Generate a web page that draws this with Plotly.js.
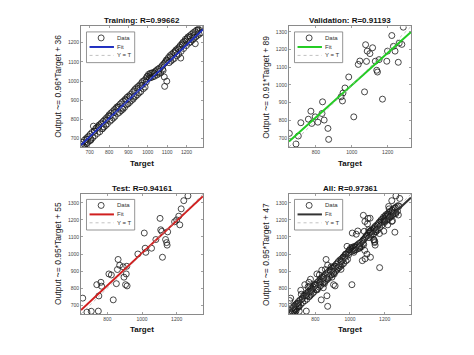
<!DOCTYPE html>
<html><head><meta charset="utf-8">
<script src="https://cdn.plot.ly/plotly-3.0.1.min.js"></script>
<style>html,body{margin:0;padding:0;background:#fff;} #chart{width:474px;height:355px;}</style>
</head><body><div id="chart"></div>
<script>
// ---------- Data ----------
const trainT = [658,662,665,669,672,676,680,684,688,691,
  695,699,703,707,712,716,719,723,727,731,
  736,740,744,748,752,757,761,765,770,774,
  778,783,787,791,796,800,805,809,813,818,
  822,827,831,835,840,844,849,853,858,862,
  866,871,875,880,884,889,893,897,902,906,
  911,915,920,924,928,933,937,942,946,951,
  955,959,964,968,973,977,982,986,990,995,
  999,1004,1008,1013,1017,1021,1026,1030,1035,1039,
  1044,1048,1052,1057,1061,1066,1070,1075,1079,1083,
  1085,1087,1088,1092,1098,1101,1106,1110,1114,1119,
  1123,1128,1132,1137,1141,1145,1150,1154,1159,1163,
  1168,1170,1172,1176,1181,1185,1190,1194,1199,1203,
  1207,1212,1216,1221,1225,1230,1234,1238,1243,1245,
  1247,1252,1256,1261,1265,1269,1274,1278,1282,
  667,686,705,725,746,766,785,806,826,847,
  868,887,908,929,949,970,992,1011,1033,1055,
  1076,1096,1117,1139,1158,1179,1200,1219,1240,1262];
const trainY = [668,656,680,657,690,666,698,672,705,680,
  712,688,722,695,731,704,764,738,715,752,
  756,726,760,770,735,775,781,750,790,760,
  798,768,808,776,815,823,790,832,798,840,
  806,850,815,856,864,830,870,836,880,845,
  888,852,896,862,905,876,915,880,922,888,
  930,898,940,905,948,956,920,965,928,972,
  938,980,945,990,998,960,1003,968,1012,1022,
  1025,1035,1015,1040,1018,1042,1022,1045,1025,1050,
  1055,1032,1062,1040,1068,1042,1074,1082,1055,1090,
  1021,972,1095,1102,999,1110,1122,1096,1132,1104,
  1140,1112,1148,1118,1155,1162,1132,1170,1140,1178,
  1186,1120,1155,1194,1202,1170,1208,1218,1185,1222,
  1230,1198,1236,1205,1244,1214,1252,1222,1258,1195,
  1230,1266,1238,1272,1244,1278,1252,1284,1280,
  660,695,690,738,762,752,795,818,835,862,
  858,900,918,915,960,978,995,1028,1040,1048,
  1062,1110,1125,1148,1165,1188,1210,1230,1242,1268];

const valT = [652,689,702,716,758,772,777,796,811,834,
  837,846,867,871,940,951,948,962,983,1011,
  1036,1045,1071,1077,1082,1086,1101,1116,1139,1143,
  1131,1152,1171,1195,1199,1223,1232,1241,1259,1264,
  1279,1287];
const valY = [727,667,712,787,807,852,783,820,790,839,
  905,802,755,693,933,955,910,983,1045,820,
  1116,1135,961,1227,1133,1191,1177,1210,1083,1073,
  1134,1143,920,1134,1191,1279,1218,1191,1128,1236,
  1229,1326];

const testT = [658,682,707,739,751,748,763,767,809,823,
  834,852,858,862,871,891,896,905,909,912,
  914,976,1013,1018,1022,1055,1080,1104,1108,1114,
  1118,1136,1142,1145,1148,1188,1200,1212,1218,1226,
  1241,1265];
const testY = [741,659,664,820,754,665,834,811,883,877,
  731,826,909,968,934,925,864,820,883,928,
  813,1000,1123,1034,1010,1034,1085,1209,1142,1133,
  981,1085,1067,1052,1130,1189,1200,1222,1171,1265,
  1313,1341];

// "All" is the union of the three sets
const allT = trainT.concat(valT, testT);
const allY = trainY.concat(valY, testY);

// Fit line end points and Y = T line end points (at the axis limits)
const trainFitX = [655, 1285], trainFitY = [665, 1270];
const valFitX   = [650, 1330], valFitY   = [681, 1299];
const testFitX  = [648, 1352], testFitY  = [671, 1339];
const allFitX   = [648, 1352], allFitY   = [663, 1331];
const trainLim = [655, 1285];
const valLim   = [650, 1330];
const testLim  = [648, 1352];
const allLim   = [648, 1352];

const panelTitles = ['Training: R=0.99662','Validation: R=0.91193','Test: R=0.94161','All: R=0.97361'];
const yLabels = ['Output ~= 0.96*Target + 36','Output ~= 0.91*Target + 89','Output ~= 0.95*Target + 55','Output ~= 0.95*Target + 47'];
const xTickVals = [[700,800,900,1000,1100,1200],[800,1000,1200],[800,1000,1200],[800,1000,1200]];
const yTickVals = [[700,800,900,1000,1100,1200],[700,800,900,1000,1100,1200,1300],[700,800,900,1000,1100,1200,1300],[700,800,900,1000,1100,1200,1300]];
const legendLabels = ['Data','Fit','Y = T'];

// ---------- Styling ----------
const FONT = 'Arial, "Liberation Sans", sans-serif';
const fitColors = ['#1f2fc0','#22cc22','#d01f1f','#333333'];
const panels = [
  {T:trainT, Y:trainY, fx:trainFitX, fy:trainFitY, lim:trainLim},
  {T:valT,   Y:valY,   fx:valFitX,   fy:valFitY,   lim:valLim},
  {T:testT,  Y:testY,  fx:testFitX,  fy:testFitY,  lim:testLim},
  {T:allT,   Y:allY,   fx:allFitX,   fy:allFitY,   lim:allLim}
];
const xDomains = [[0.1709,0.4283],[0.6097,0.8671],[0.1709,0.4283],[0.6097,0.8671]];
const yDomains = [[0.5859,0.9254],[0.5859,0.9254],[0.1155,0.4535],[0.1155,0.4535]];

const traces = [];
const layout = {
  width: 474, height: 355,
  margin: {l:0, r:0, t:0, b:0},
  paper_bgcolor: '#fff', plot_bgcolor: '#fff',
  showlegend: false,
  annotations: [], shapes: []
};

panels.forEach((p, i) => {
  const sfx = i === 0 ? '' : String(i + 1);
  const xa = 'x' + sfx, ya = 'y' + sfx;
  traces.push({x:p.T, y:p.Y, xaxis:xa, yaxis:ya, type:'scatter', mode:'markers',
    marker:{symbol:'circle-open', size:6, color:'#1a1a1a', line:{width:0.8}}, hoverinfo:'skip'});
  traces.push({x:p.fx, y:p.fy, xaxis:xa, yaxis:ya, type:'scatter', mode:'lines',
    line:{color:fitColors[i], width:2}, hoverinfo:'skip'});
  traces.push({x:p.lim, y:p.lim, xaxis:xa, yaxis:ya, type:'scatter', mode:'lines',
    line:{color:'#a8a8a8', width:0.7, dash:'dot'}, hoverinfo:'skip'});

  const axCommon = {showgrid:false, zeroline:false, showline:true, linecolor:'#8a8a8a', linewidth:1,
    mirror:'ticks', ticks:'inside', ticklen:2, tickwidth:0.8, tickcolor:'#8a8a8a',
    tickfont:{family:FONT, size:5, color:'#444'}};
  layout['xaxis' + sfx] = Object.assign({}, axCommon, {domain:xDomains[i], range:p.lim, anchor:ya,
    tickmode:'array', tickvals:xTickVals[i]});
  layout['yaxis' + sfx] = Object.assign({}, axCommon, {domain:yDomains[i], range:p.lim, anchor:xa,
    tickmode:'array', tickvals:yTickVals[i]});

  const xr = xa + ' domain', yr = ya + ' domain';
  layout.annotations.push({xref:xr, yref:yr, x:0.5, y:1, xanchor:'center', yanchor:'middle', yshift:6,
    text:'<b>' + panelTitles[i] + '</b>', showarrow:false, font:{family:FONT, size:8, color:'#111'}});
  layout.annotations.push({xref:xr, yref:yr, x:0.5, y:0, xanchor:'center', yanchor:'middle', yshift:-16,
    text:'<b>Target</b>', showarrow:false, font:{family:FONT, size:8, color:'#111'}});
  layout.annotations.push({xref:xr, yref:yr, x:0, y:0.5, xanchor:'center', yanchor:'middle', xshift:-23,
    textangle:-90, text:yLabels[i], showarrow:false, font:{family:FONT, size:8.5, color:'#222'}});

  // legend box (drawn inside each panel like MATLAB)
  layout.shapes.push({type:'rect', xref:xr, yref:yr, x0:0.045, x1:0.44, y0:0.70, y1:0.955,
    line:{color:'#7a7a7a', width:0.8}, fillcolor:'#fff', layer:'above'});
  layout.shapes.push({type:'circle', xref:xr, yref:yr, xsizemode:'pixel', ysizemode:'pixel',
    xanchor:0.165, yanchor:0.905, x0:-3, x1:3, y0:-3, y1:3, line:{color:'#1a1a1a', width:0.8}, layer:'above'});
  layout.shapes.push({type:'line', xref:xr, yref:yr, x0:0.07, x1:0.27, y0:0.83, y1:0.83,
    line:{color:fitColors[i], width:2}, layer:'above'});
  layout.shapes.push({type:'line', xref:xr, yref:yr, x0:0.07, x1:0.27, y0:0.76, y1:0.76,
    line:{color:'#a8a8a8', width:0.7, dash:'dot'}, layer:'above'});
  [0.905, 0.83, 0.76].forEach((yy, k) => {
    layout.annotations.push({xref:xr, yref:yr, x:0.285, y:yy, xanchor:'left', yanchor:'middle',
      text:legendLabels[k], showarrow:false, font:{family:FONT, size:6, color:'#333'}, borderpad:0});
  });
});

Plotly.newPlot('chart', traces, layout, {staticPlot:true, displayModeBar:false});
</script>
</body></html>
